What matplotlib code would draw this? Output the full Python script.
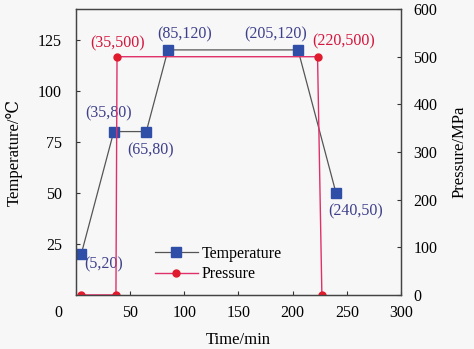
import matplotlib
matplotlib.use("Agg")
import matplotlib.pyplot as plt
import matplotlib.transforms as mtransforms

plt.rcParams['font.family'] = ['Liberation Serif', 'DejaVu Serif']
plt.rcParams['font.size'] = 11.5

# data
temp_time = [5, 35, 65, 85, 205, 240]
temp_val = [20, 80, 80, 120, 120, 50]
press_time = [5, 37, 38, 223, 227]
press_val = [0, 0, 500, 500, 0]

temp_labels = ['(5,20)', '(35,80)', '(65,80)', '(85,120)', '(205,120)', '(240,50)']
temp_label_pos = [(25.8, 15), (30.5, 89), (69, 71), (100, 127.5), (184.6, 127.5), (258.5, 41)]
press_labels = ['(35,500)', '(220,500)']
press_label_pos = [(38.8, 123), (247.4, 124)]

bg = '#f7f7f7'
fig = plt.figure(figsize=(4.74, 3.49), dpi=100, facecolor=bg)
ax1 = fig.add_axes([0.160, 0.155, 0.686, 0.819])
ax1.set_facecolor(bg)
ax2 = ax1.twinx()

l1, = ax1.plot(temp_time, temp_val, color='#555555', lw=0.9, marker='s',
               markersize=6.5, markerfacecolor='#2f4ea8', markeredgecolor='#2f4ea8',
               label='Temperature')
l2, = ax2.plot(press_time, press_val, color='#e0306a', lw=1.0, marker='o',
               markersize=5, markerfacecolor='#e01b2e', markeredgecolor='#e01b2e',
               label='Pressure')

ax1.set_xlim(0, 300)
ax1.set_ylim(0, 140)
ax2.set_ylim(0, 600)
ax1.set_xticks(range(0, 301, 50))
ax1.set_yticks([25, 50, 75, 100, 125])
ax2.set_yticks(range(0, 601, 100))

for ax in (ax1, ax2):
    ax.tick_params(direction='in', length=3, width=0.8, color='#333333')
    for s in ax.spines.values():
        s.set_color('#444444')
        s.set_linewidth(0.9)
ax1.tick_params(axis='x', pad=7)
ax1.tick_params(axis='y', pad=10)
ax2.tick_params(axis='y', pad=9)

ax1.set_xlabel('Time/min', labelpad=8, fontsize=12)
ax1.set_ylabel('Temperature/\u2103', labelpad=11, fontsize=12)
ax2.set_ylabel('Pressure/MPa', labelpad=10, fontsize=12)

# shift the "0" x tick label to the left, like the original
fig.canvas.draw()
lab0 = ax1.get_xticklabels()[0]
lab0.set_transform(lab0.get_transform() +
                   mtransforms.ScaledTranslation(-17 / 100, 0, fig.dpi_scale_trans))

for txt, (x, y) in zip(temp_labels, temp_label_pos):
    ax1.text(x, y, txt, color='#3d3f8a', fontsize=11.5, ha='center', va='center')
for txt, (x, y) in zip(press_labels, press_label_pos):
    ax1.text(x, y, txt, color='#d4143c', fontsize=11.5, ha='center', va='center')

ax1.legend([l1, l2], ['Temperature', 'Pressure'], loc='center left',
           bbox_to_anchor=(0.243, 0.108), frameon=False, borderpad=0,
           borderaxespad=0, handlelength=2.7, handletextpad=0.25,
           labelspacing=0.3)

fig.savefig('out.png', dpi=100, facecolor=bg)
